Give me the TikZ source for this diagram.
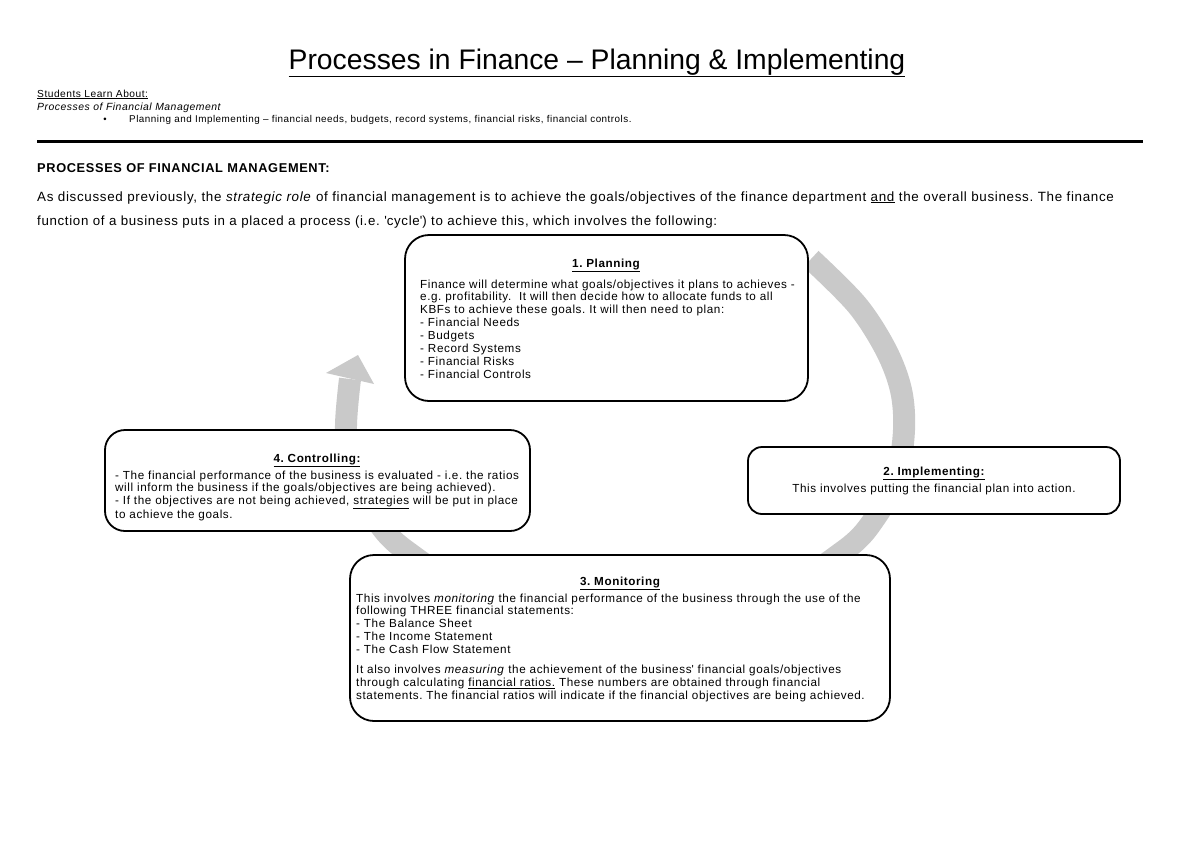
\documentclass[tikz,border=0pt]{standalone}
\usepackage{fontspec}
\setmainfont[LetterSpace=5]{Liberation Sans}
\newfontfamily\plainfont{Liberation Sans}
\frenchspacing
\begin{document}
\begin{tikzpicture}[x=1pt,y=-1pt,
  box/.style={draw, line width=1.8pt, fill=white, inner sep=0pt},
  txt/.style={anchor=base west, inner sep=0pt, align=left, text width=#1},
  ctxt/.style={anchor=base, inner sep=0pt, align=center},
  boxfont/.style={font=\fontsize{11.7}{12.9}\selectfont},
  boxtitle/.style={font=\fontsize{11.7}{12.9}\selectfont\bfseries},
  band/.style={line width=22pt, draw=black!21}
]
\useasboundingbox (0,0) rectangle (1200,849);
\fill[white] (0,0) rectangle (1200,849);

% header
\node[ctxt] (title) at (597,69) {\plainfont\fontsize{28.3}{32}\selectfont\underline{Processes in Finance – Planning \& Implementing}};
\node[txt=300pt, font=\fontsize{10.2}{11}\selectfont] (sla) at (37,97) {\underline{Students Learn About:}};
\node[txt=300pt, font=\fontsize{10.4}{11}\selectfont\itshape] (pfm) at (37,110) {Processes of Financial Management};
\node[ctxt, font=\fontsize{9.5}{10}\selectfont] (bul) at (105,122) {•};
\node[txt=700pt, font=\fontsize{9.87}{11}\selectfont] (bultext) at (129,122) {Planning and Implementing – financial needs, budgets, record systems, financial risks, financial controls.};
\coordinate (ruleL) at (37,141);
\coordinate (ruleR) at (1143,141);
\draw[line width=3pt] (ruleL) -- (ruleR);
\node[txt=500pt, font=\fontsize{12.8}{14}\selectfont\bfseries] (head) at (37,172) {PROCESSES OF FINANCIAL MANAGEMENT:};
\node[txt=1150pt, font=\fontsize{13.4}{14}\selectfont] (para1) at (37,201) {As discussed previously, the \textit{strategic role} of financial management is to achieve the goals/objectives of the finance department \underline{and} the overall business. The finance};
\node[txt=1150pt, font=\fontsize{13.3}{14}\selectfont] (para2) at (37,225) {function of a business puts in a placed a process (i.e. \textquotesingle cycle\textquotesingle) to achieve this, which involves the following:};

% cycle band
\draw[band] plot[smooth, tension=0.55] coordinates {(811,259) (857,305) (886,350) (901,390) (904,430) (897,475) (877,515) (845,550) (760,600) (625,622) (490,600) (405,550) (373,515) (353,475) (346,430) (350,379)};
\fill[black!21] (358,355) -- (326,373) -- (374,384) -- cycle;

% boxes
\node[box, rounded corners=24pt, minimum width=403pt, minimum height=166pt] (plan) at (606.5,318) {};
\node[box, rounded corners=20pt, minimum width=425pt, minimum height=101pt] (ctrl) at (317.5,480.5) {};
\node[box, rounded corners=14pt, minimum width=372pt, minimum height=67pt] (impl) at (934,480.5) {};
\node[box, rounded corners=24pt, minimum width=540pt, minimum height=166pt] (mon) at (620,638) {};

% planning text
\node[ctxt, boxtitle] (plant) at (606,267) {\underline{1. Planning}};
\node[txt=400pt, boxfont] (planb) at (420,288) {Finance will determine what goals/objectives it plans to achieves -\\
e.g. profitability.\ \ It will then decide how to allocate funds to all\\
KBFs to achieve these goals. It will then need to plan:\\
- Financial Needs\\
- Budgets\\
- Record Systems\\
- Financial Risks\\
- Financial Controls};

% controlling text
\node[ctxt, boxtitle] (ctrlt) at (317,462) {\underline{4. Controlling:}};
\node[txt=420pt, boxfont] (ctrlb) at (115,479) {- The financial performance of the business is evaluated - i.e. the ratios\\
will inform the business if the goals/objectives are being achieved).\\
- If the objectives are not being achieved, \underline{strategies} will be put in place\\
to achieve the goals.};

% implementing text
\node[ctxt, boxtitle] (implt) at (934,475) {\underline{2. Implementing:}};
\node[ctxt, boxfont] (implb) at (934,492) {This involves putting the financial plan into action.};

% monitoring text
\node[ctxt, boxtitle] (mont) at (620,585) {\underline{3. Monitoring}};
\node[txt=540pt, boxfont] (monb) at (356,602) {This involves \textit{monitoring} the financial performance of the business through the use of the\\
following THREE financial statements:\\
- The Balance Sheet\\
- The Income Statement\\
- The Cash Flow Statement\\[7pt]
It also involves \textit{measuring} the achievement of the business\textquotesingle{} financial goals/objectives\\
through calculating \underline{financial ratios.} These numbers are obtained through financial\\
statements. The financial ratios will indicate if the financial objectives are being achieved.};
\end{tikzpicture}
\end{document}
